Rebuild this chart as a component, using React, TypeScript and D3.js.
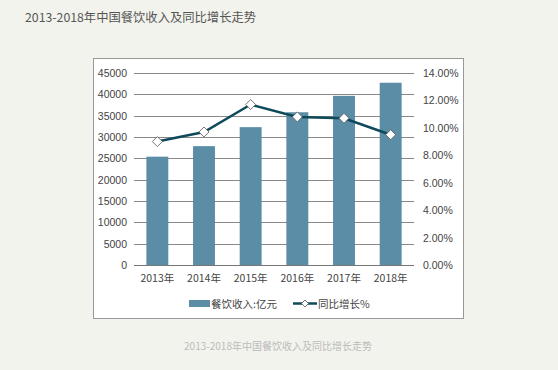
import { scaleBand, scaleLinear, line } from 'd3';

const years = ['2013年', '2014年', '2015年', '2016年', '2017年', '2018年'];
const revenue = [25392, 27860, 32310, 35799, 39644, 42716];
const growth = [9.0, 9.7, 11.7, 10.8, 10.7, 9.5];
const leftTicks = [0, 5000, 10000, 15000, 20000, 25000, 30000, 35000, 40000, 45000];
const rightTicks = [0, 2, 4, 6, 8, 10, 12, 14];

const W = 558, H = 370;
const plot = { left: 134, right: 414, top: 73, bottom: 265 };
const font = '"Microsoft YaHei", "Noto Sans CJK SC", sans-serif';
const numFont = "Arial, 'Liberation Sans', sans-serif";

export default function App() {
  const x = scaleBand<string>().domain(years).range([plot.left, plot.right]).paddingInner(0.53).paddingOuter(0.265);
  const yL = scaleLinear().domain([0, 45000]).range([plot.bottom, plot.top]);
  const yR = scaleLinear().domain([0, 14]).range([plot.bottom, plot.top]);
  const cx = (i: number) => (x(years[i]) ?? 0) + x.bandwidth() / 2;
  const path = line<number>().x((_, i) => cx(i)).y(d => yR(d))(growth) ?? '';
  const diamond = (px: number, py: number, r: number) => `M${px},${py - r}L${px + r},${py}L${px},${py + r}L${px - r},${py}Z`;

  return (
    <svg width={W} height={H} style={{ position: 'absolute', left: 0, top: 0, fontFamily: font }}>
      <rect x={0} y={0} width={W} height={H} fill="#f3f3ed" />
      <text x={25} y={22} fontSize={12.3} fill="#555">2013-2018年中国餐饮收入及同比增长走势</text>
      <rect x={93.5} y={58.5} width={370} height={260} fill="#fff" stroke="#999" />

      {leftTicks.map(t => (
        <g key={t}>
          <line x1={plot.left} x2={plot.right} y1={Math.round(yL(t)) + 0.5} y2={Math.round(yL(t)) + 0.5} stroke={t === 0 ? '#777' : '#888'} />
          <text x={127} y={yL(t) + 4} fontSize={10.5} textAnchor="end" fill="#444" fontFamily={numFont}>{t}</text>
        </g>
      ))}
      {rightTicks.map(t => (
        <text key={t} x={423} y={yR(t) + 4} fontSize={10.5} fill="#444" fontFamily={numFont}>{t.toFixed(2)}%</text>
      ))}

      {revenue.map((v, i) => (
        <rect key={i} x={x(years[i])} y={yL(v)} width={x.bandwidth()} height={plot.bottom - yL(v)} fill="#5b8ea6" />
      ))}

      <path d={path} fill="none" stroke="#0e4a5a" strokeWidth={2.5} />
      {growth.map((g, i) => (
        <path key={i} d={diamond(cx(i), yR(g), 5)} fill="#fff" stroke="#555" strokeWidth={0.8} />
      ))}

      {years.map((yr, i) => (
        <text key={yr} x={cx(i)} y={plot.bottom + 17} fontSize={10.5} textAnchor="middle" fill="#444">{yr}</text>
      ))}

      <rect x={189} y={300} width={21} height={7} fill="#5b8ea6" />
      <text x={211} y={307.5} fontSize={10.5} fill="#444">餐饮收入:亿元</text>
      <line x1={293} x2={317} y1={303.5} y2={303.5} stroke="#0e4a5a" strokeWidth={2.5} />
      <path d={diamond(305, 303.5, 3.5)} fill="#fff" stroke="#555" strokeWidth={0.8} />
      <text x={318} y={307.5} fontSize={10.5} fill="#444">同比增长%</text>

      <text x={278} y={350} fontSize={10} textAnchor="middle" fill="#bbb">2013-2018年中国餐饮收入及同比增长走势</text>
    </svg>
  );
}
